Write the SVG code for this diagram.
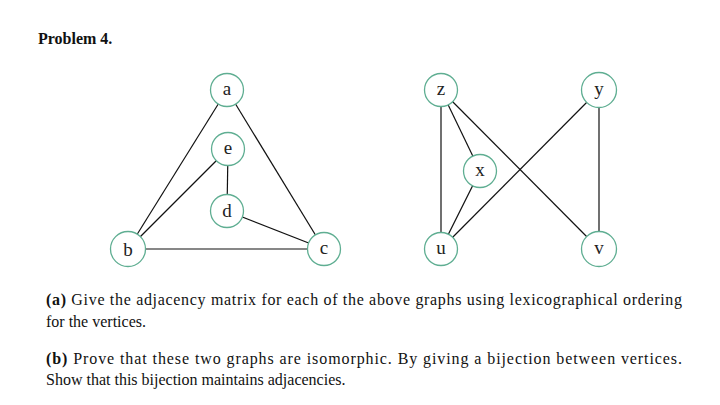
<svg xmlns="http://www.w3.org/2000/svg" width="720" height="405" viewBox="0 0 720 405">
<style>
.n circle{fill:#fff;stroke:#5fae92;stroke-width:1.3}
.n text{font-family:"Liberation Serif",serif;font-size:19px;text-anchor:middle;fill:#222}
.e line{stroke:#111;stroke-width:1.2}
.t{font-family:"Liberation Serif",serif;font-size:16px;fill:#111}
</style>
<rect width="720" height="405" fill="#fff"/>
<text class="t" x="38" y="44" font-weight="bold">Problem 4.</text>
<g class="e" id="connectors">
<line x1="227" y1="90" x2="128" y2="249"/>
<line x1="227" y1="90" x2="324" y2="249"/>
<line x1="228" y1="149" x2="128" y2="249"/>
<line x1="228" y1="149" x2="227" y2="211"/>
<line x1="227" y1="211" x2="324" y2="249"/>
<line x1="128" y1="249" x2="324" y2="249"/>
<line x1="441" y1="90" x2="441" y2="249"/>
<line x1="441" y1="90" x2="480" y2="171"/>
<line x1="441" y1="90" x2="599" y2="249"/>
<line x1="480" y1="171" x2="441" y2="249"/>
<line x1="599" y1="90" x2="441" y2="249"/>
<line x1="599" y1="90" x2="599" y2="249"/>
</g>
<g class="n" id="a"><circle cx="227" cy="90" r="16.5"/><text x="227" y="95">a</text></g>
<g class="n" id="e"><circle cx="228" cy="149" r="16.5"/><text x="228" y="154">e</text></g>
<g class="n" id="d"><circle cx="227" cy="211" r="16.5"/><text x="227" y="217">d</text></g>
<g class="n" id="b"><circle cx="128" cy="249" r="17.5"/><text x="128" y="256">b</text></g>
<g class="n" id="c"><circle cx="324" cy="249" r="16.5"/><text x="324" y="254">c</text></g>
<g class="n" id="z"><circle cx="441" cy="90" r="16.5"/><text x="441" y="95">z</text></g>
<g class="n" id="y"><circle cx="599" cy="90" r="17.5"/><text x="599" y="95">y</text></g>
<g class="n" id="x"><circle cx="480" cy="171" r="16.5"/><text x="480" y="176">x</text></g>
<g class="n" id="u"><circle cx="441" cy="249" r="16.5"/><text x="441" y="254">u</text></g>
<g class="n" id="v"><circle cx="599" cy="249" r="17.5"/><text x="599" y="254">v</text></g>
<text class="t" x="46" y="305" textLength="636" lengthAdjust="spacing"><tspan font-weight="bold">(a)</tspan> Give the adjacency matrix for each of the above graphs using lexicographical ordering</text>
<text class="t" x="46" y="327">for the vertices.</text>
<text class="t" x="46" y="364" textLength="636" lengthAdjust="spacing"><tspan font-weight="bold">(b)</tspan> Prove that these two graphs are isomorphic.  By giving a bijection between vertices.</text>
<text class="t" x="46" y="385">Show that this bijection maintains adjacencies.</text>
</svg>
